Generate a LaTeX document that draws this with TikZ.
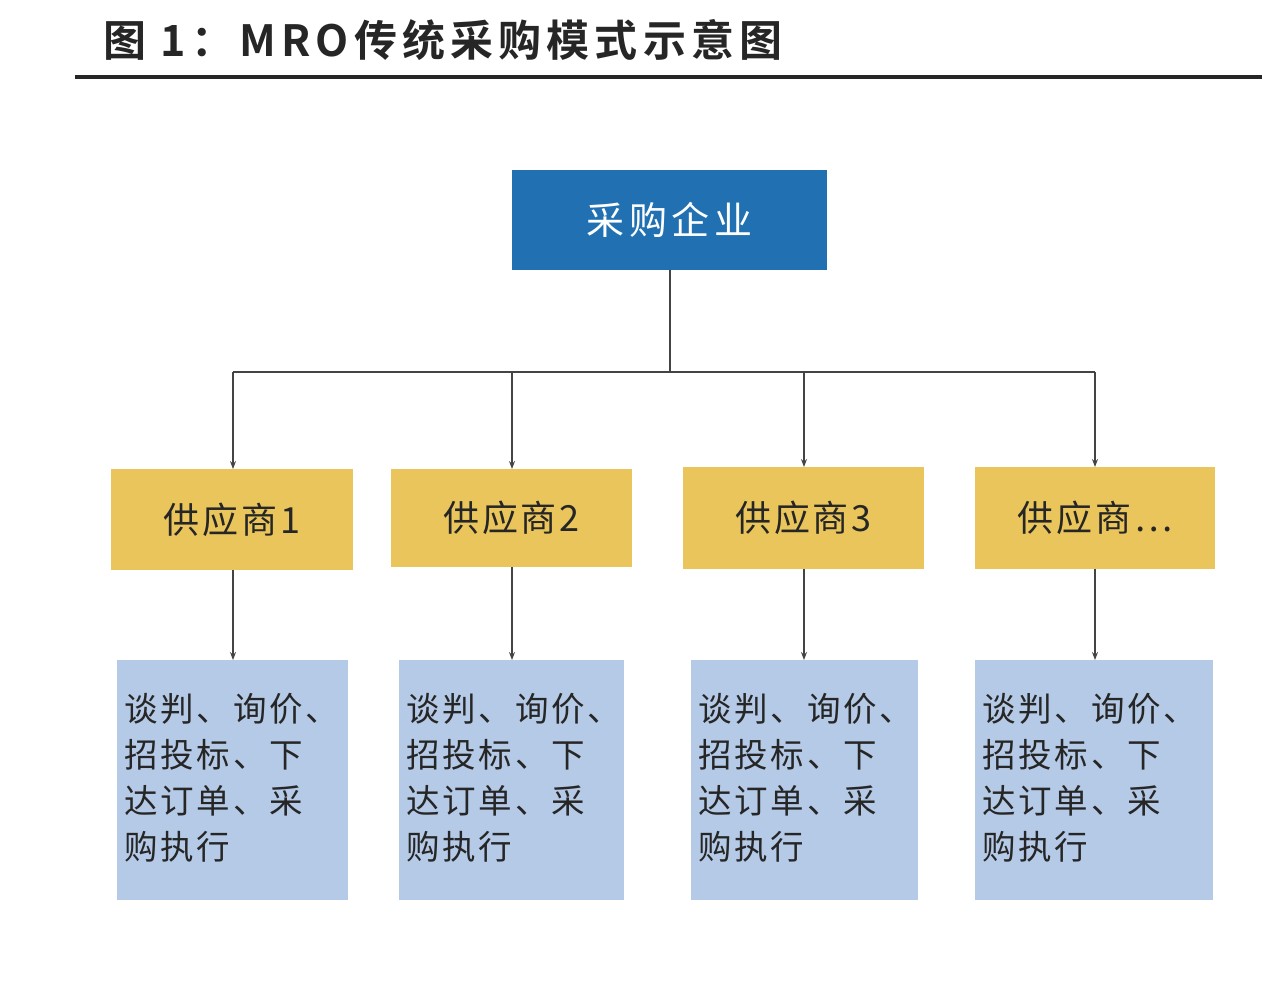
\documentclass[tikz,border=0pt]{standalone}
\usepackage{fontspec}
\newfontfamily\cjk[LetterSpace=12]{Noto Sans CJK SC}
\newfontfamily\cjks[LetterSpace=8]{Noto Sans CJK SC}
\newfontfamily\cjkb[LetterSpace=12]{Noto Sans CJK SC Bold}
\usetikzlibrary{arrows.meta}
\definecolor{topblue}{HTML}{2171B2}
\definecolor{supy}{HTML}{E9C55B}
\definecolor{lblue}{HTML}{B5CAE7}
\definecolor{linec}{HTML}{444444}
\tikzset{
 topbox/.style={fill=topblue,draw=none,text=white,font=\cjk\fontsize{38}{44}\selectfont},
 supbox/.style={fill=supy,draw=none,text=black!85,font=\cjks\fontsize{36}{42}\selectfont},
 actbox/.style={fill=lblue,draw=none,text=black!85,font=\cjks\fontsize{33.5}{46}\selectfont,align=left},
 conn/.style={draw=linec,line width=1.2pt},
 arr/.style={conn,-{Stealth[length=8pt,width=6pt]}}
}
\begin{document}
\begin{tikzpicture}[x=1pt,y=-1pt]
\useasboundingbox (0,0) rectangle (1266,990);
\fill[white] (0,0) rectangle (1266,990);
\node[anchor=west,font=\cjkb\fontsize{43}{48}\selectfont,text=black!85] (title) at (100,40) {图\,\,1：MRO传统采购模式示意图};
\draw[line width=3pt,black!85] (75,77) -- (1262,77);
\fill[topblue] (512,170) rectangle (827,270);
\node[topbox] (top) at (669.5,220) {采购企业};
\coordinate (tb) at (670,270);
\coordinate (j) at (670,372);
\foreach \i/\xa/\xb/\ya/\yb/\t in {1/111/353/469/570/供应商1, 2/391/632/469/567/供应商2, 3/683/924/467/569/供应商3, 4/975/1215/467/569/供应商…}{
  \fill[supy] (\xa,\ya) rectangle (\xb,\yb);
  \node[supbox] (s\i) at ({(\xa+\xb)/2},{(\ya+\yb)/2}) {\t};
}
\foreach \i/\xa/\xb in {1/117/348, 2/399/624, 3/691/918, 4/975/1213}{
  \fill[lblue] (\xa,660) rectangle (\xb,900);
  \node[actbox,anchor=north west] (a\i) at ({\xa+4},690) {谈判、询价、\\招投标、下\\达订单、采\\购执行};
}
\draw[conn] (tb) -- (j);
\draw[conn] (233,372) -- (1095,372);
\foreach \x/\y/\i in {233/469/1, 512/469/2, 804/467/3, 1095/467/4}{
  \coordinate (h\i) at (\x,372);
  \coordinate (st\i) at (\x,\y);
  \draw[arr] (h\i) -- (st\i);
}
\foreach \x/\y/\i in {233/570/1, 512/567/2, 804/569/3, 1095/569/4}{
  \coordinate (sb\i) at (\x,\y);
  \coordinate (at\i) at (\x,660);
  \draw[arr] (sb\i) -- (at\i);
}
\end{tikzpicture}
\end{document}
